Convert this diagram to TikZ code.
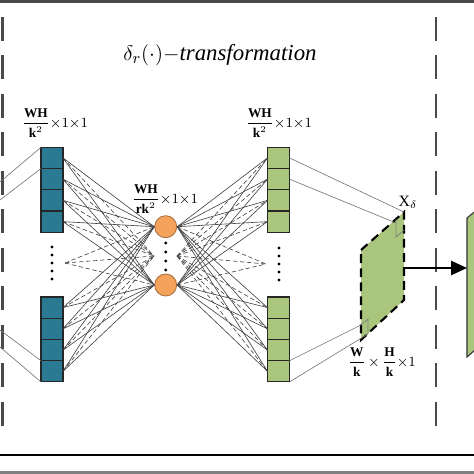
\documentclass[tikz,border=0pt]{standalone}
\usepackage{fontspec}
\setmainfont{Liberation Serif}
\usepackage{amsmath}
\usetikzlibrary{arrows.meta,positioning,calc}
\definecolor{tealc}{HTML}{2B7A94}
\definecolor{olive}{HTML}{A9C67C}
\definecolor{orng}{HTML}{F4A25C}
\definecolor{frame}{HTML}{4A4A4A}

\begin{document}
\begin{tikzpicture}[
  x=0.02cm, y=-0.02cm,
  cell/.style={draw=black!85,line width=0.6pt,minimum width=0.44cm,minimum height=0.425cm,inner sep=0pt,outer sep=0pt},
  bcell/.style={cell,fill=tealc},
  gcell/.style={cell,fill=olive},
  hid/.style={circle,draw=orng!70!black,fill=orng,line width=0.5pt,minimum size=0.44cm,inner sep=0pt},
  link/.style={black!75,line width=0.35pt},
  dlink/.style={link,dash pattern=on 2.5pt off 1.5pt},
  feed/.style={black!55,line width=0.35pt},
  tiny/.style={font=\fontsize{7.6}{8}\selectfont,inner sep=0pt},
  sep/.style={frame,line width=1.2pt,dash pattern=on 13.6pt off 8.3pt},
  dotc/.style={black,radius=0.9pt}
]
  \useasboundingbox (0,0) rectangle (474,474);
  \clip (0,0) rectangle (474,474);

  % frame lines
  \fill[frame] (0,0) rectangle (474,3);
  \draw[black,line width=1.6pt] (0,455) -- (474,455);
  \fill[gray] (0,471) rectangle (474,474);
  \draw[sep] (2.5,17) -- (2.5,430);
  \draw[sep] (435.7,17) -- (435.7,430);

  \node[font=\fontsize{13}{15}\selectfont] (title) at (220,55) {$\delta_r(\cdot)-$\textit{transformation}};

  % input column
  \node[bcell] (l1) at (52,157.9) {};
  \foreach \i [count=\j from 2] in {1,2,3} \node[bcell,below=0pt of l\i] (l\j) {};
  \node[bcell] (l5) at (52,307.6) {};
  \foreach \i [count=\j from 6] in {5,6,7} \node[bcell,below=0pt of l\i] (l\j) {};

  % hidden units
  \node[hid] (h1) at (165.7,226.7) {};
  \node[hid] (h2) at (165.7,285) {};

  % output column
  \node[gcell] (r1) at (278.5,157.9) {};
  \foreach \i [count=\j from 2] in {1,2,3} \node[gcell,below=0pt of r\i] (r\j) {};
  \node[gcell] (r5) at (278.5,307.6) {};
  \foreach \i [count=\j from 6] in {5,6,7} \node[gcell,below=0pt of r\i] (r\j) {};

  \node[tiny] (lab-l) at (55,123) {$\dfrac{\textbf{WH}}{\textbf{k}^{2}}{\times}1{\times}1$};
  \node[tiny] (lab-h) at (165,199) {$\dfrac{\textbf{WH}}{\textbf{rk}^{2}}{\times}1{\times}1$};
  \node[tiny] (lab-r) at (279,123) {$\dfrac{\textbf{WH}}{\textbf{k}^{2}}{\times}1{\times}1$};
  \node[tiny] (lab-x) at (382,362) {$\dfrac{\textbf{W}}{\textbf{k}}\,{\times}\,\dfrac{\textbf{H}}{\textbf{k}}{\times}1$};
  \node[font=\fontsize{9}{10}\selectfont,inner sep=0pt] (xd) at (408,202) {X$_{\delta}$};

  % dots
  \foreach \y in {247,255,263,271,279} {
    \fill[dotc] (52,\y) circle;
    \fill[dotc] (279,\y+1) circle;
  }
  \foreach \y in {243,252,261,270} \fill[dotc] (165.7,\y) circle;

  \coordinate (lm) at (65,263);
  \coordinate (cl) at (154,256);
  \coordinate (cr) at (177,256);
  \coordinate (rm) at (266,264);

  % connections
  \foreach \i in {1,...,8} {
    \draw[link] (l\i.east) -- (h1.west);
    \draw[link] (l\i.east) -- (h2.west);
    \draw[dlink] (l\i.east) -- (cl);
    \draw[link] (h1.east) -- (r\i.west);
    \draw[link] (h2.east) -- (r\i.west);
    \draw[dlink] (cr) -- (r\i.west);
  }
  \draw[dlink] (lm) -- (h1.west);
  \draw[dlink] (lm) -- (h2.west);
  \draw[dlink] (lm) -- (cl);
  \draw[dlink] (h1.east) -- (rm);
  \draw[dlink] (h2.east) -- (rm);
  \draw[dlink] (cr) -- (rm);

  % incoming lines
  \coordinate (in1) at (0,182);
  \coordinate (in2) at (0,200);
  \coordinate (in3) at (0,330);
  \coordinate (in4) at (0,347);
  \draw[feed] (in1) -- (l1.north west);
  \draw[feed] (in2) -- (l1.south west);
  \draw[feed] (in3) -- (l8.north west);
  \draw[feed] (in4) -- (l8.south west);

  % reshaped map X_delta
  \coordinate (p1) at (361,250);
  \coordinate (p2) at (404,212);
  \coordinate (p3) at (404,300);
  \coordinate (p4) at (361,340);
  \fill[olive] (p1) -- (p2) -- (p3) -- (p4) -- cycle;
  \draw[black,line width=1.2pt,dash pattern=on 5pt off 3pt] (p1) -- (p2) -- (p3) -- (p4) -- cycle;
  \draw[black!50,line width=0.4pt] (396,219) -- (396,237) -- (404,230);
  \draw[black!50,line width=0.4pt] (361,325) -- (368,319) -- (368,334);
  \coordinate (q1) at (396,223);
  \coordinate (q2) at (361,325);
  \coordinate (q3) at (368,334);
  \draw[feed] (r1.east) -- (p2);
  \draw[feed] (r2.east) -- (q1);
  \draw[feed] (r8.north east) -- (q2);
  \draw[feed] (r8.south east) -- (q3);

  % next stage (cut off)
  \fill[olive,draw=black!80,line width=0.6pt] (467,218) -- (490,199) -- (490,337) -- (467,357) -- cycle;
  \coordinate (pa) at (404,268);
  \coordinate (qa) at (467,268);
  \draw[black,line width=1.1pt,-{Triangle[length=9pt,width=8pt]}] (pa) -- (qa);
\end{tikzpicture}
\end{document}
